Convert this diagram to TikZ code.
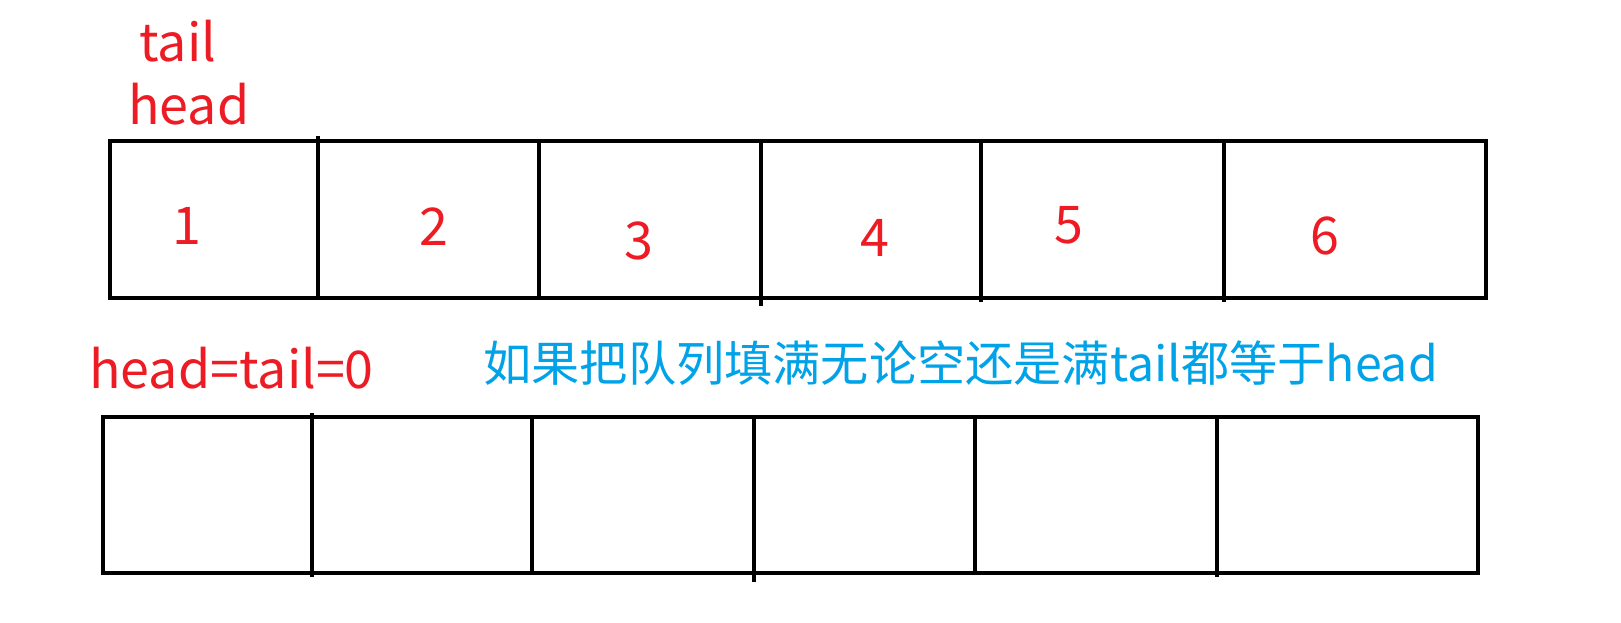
\documentclass[tikz,border=0pt]{standalone}
\usepackage{fontspec}
\setmainfont{Noto Sans CJK SC}
\definecolor{markred}{RGB}{237,28,36}
\definecolor{noteblue}{RGB}{0,162,232}

\begin{document}
\begin{tikzpicture}[
                x=0.5pt, y=-0.5pt,
                cell/.style={draw=black, line width=2.4pt},
                lbl/.style={inner sep=0pt, font=\fontsize{26}{30}\selectfont},
            ]
                \useasboundingbox (0, 0) rectangle (1621, 622);
                % full queue
                \draw[cell] (110, 141) rectangle (1486, 298);
                \foreach \x/\a/\b in {318/136/300, 539/141/298, 761/141/306, 981/141/302, 1224/141/302}
                    \draw[cell] (\x, \a) -- (\x, \b);
                \node[lbl, text=markred] (n1) at (187, 226) {1};
                \node[lbl, text=markred] (n2) at (434, 227) {2};
                \node[lbl, text=markred] (n3) at (639, 241) {3};
                \node[lbl, text=markred] (n4) at (875, 238) {4};
                \node[lbl, text=markred] (n5) at (1069, 225) {5};
                \node[lbl, text=markred] (n6) at (1325, 236) {6};
                \node[lbl, text=markred, anchor=base west] (tail) at (139, 61) {tail};
                \node[lbl, text=markred, anchor=base west] (head) at (128, 124) {head};
                % empty queue
                \draw[cell] (103, 417) rectangle (1478, 573);
                \foreach \x/\a/\b in {312/413/577, 532/417/573, 754/417/582, 975/417/575, 1217/417/577}
                    \draw[cell] (\x, \a) -- (\x, \b);
                \node[lbl, text=markred, anchor=base west] (init) at (89, 388) {head=tail=0};
                \node[lbl, text=noteblue, anchor=base west, font=\fontsize{24.1}{30}\selectfont] (note) at (483, 381) {如果把队列填满无论空还是满tail都等于head};
            \end{tikzpicture}
\end{document}
